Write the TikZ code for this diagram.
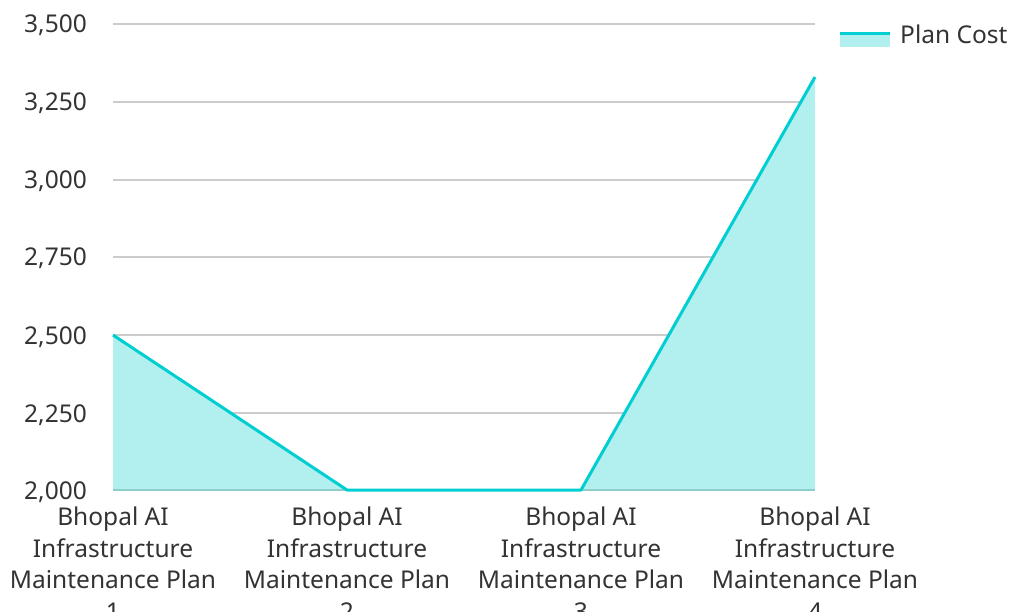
\documentclass[tikz,border=0pt]{standalone}
\usepackage{fontspec}
\setmainfont{Noto Sans}
\definecolor{linec}{HTML}{00CED1}
\definecolor{fillc}{HTML}{B2EFEF}
\definecolor{gridc}{HTML}{CCCCCC}
\definecolor{txt}{HTML}{333333}
\begin{document}
\begin{tikzpicture}[x=1pt,y=-1pt,
  grid/.style={draw=gridc,line width=1.2pt},
  ylab/.style={anchor=base east,text=txt,font=\fontsize{24.5}{29}\selectfont,inner sep=0pt},
  xlab/.style={anchor=north,text=txt,align=center,font=\fontsize{24.5}{31.5}\selectfont,inner sep=0pt},
  series/.style={draw=linec,line width=3pt,line join=round}]
\useasboundingbox (0,0) rectangle (1009,612);
\clip (0,0) rectangle (1009,612);
% grid
\foreach \v/\yy in {3{,}500/24,3{,}250/102,3{,}000/180,2{,}750/257,2{,}500/335,2{,}250/413}{
  \draw[grid] (113,\yy) -- (815,\yy);
  \node[ylab] at (87,\yy+9) {\v};
}
\node[ylab] at (87,499) {2,000};
% data
\coordinate (p1) at (113,335);
\coordinate (p2) at (347,490);
\coordinate (p3) at (581,490);
\coordinate (p4) at (815,77);
\fill[fillc] (113,490) -- (p1) -- (p2) -- (p3) -- (p4) -- (815,490) -- cycle;
\draw[draw=gridc!70!linec,line width=1.5pt] (113,490) -- (815,490);
\draw[series] (p1) -- (p2) -- (p3) -- (p4);
% x labels
\foreach \xx/\n in {113/1,347/2,581/3,815/4}{
  \node[xlab] (xl\n) at (\xx,507) {Bhopal AI\\Infrastructure\\Maintenance Plan\\\n};
}
% legend
\fill[fillc] (840,34) rectangle (890,47);
\draw[draw=linec,line width=3pt] (840,34) -- (890,34);
\node[anchor=base west,text=txt,font=\fontsize{24.5}{29}\selectfont,inner sep=0pt] (leg) at (900,44) {Plan Cost};
\end{tikzpicture}
\end{document}
